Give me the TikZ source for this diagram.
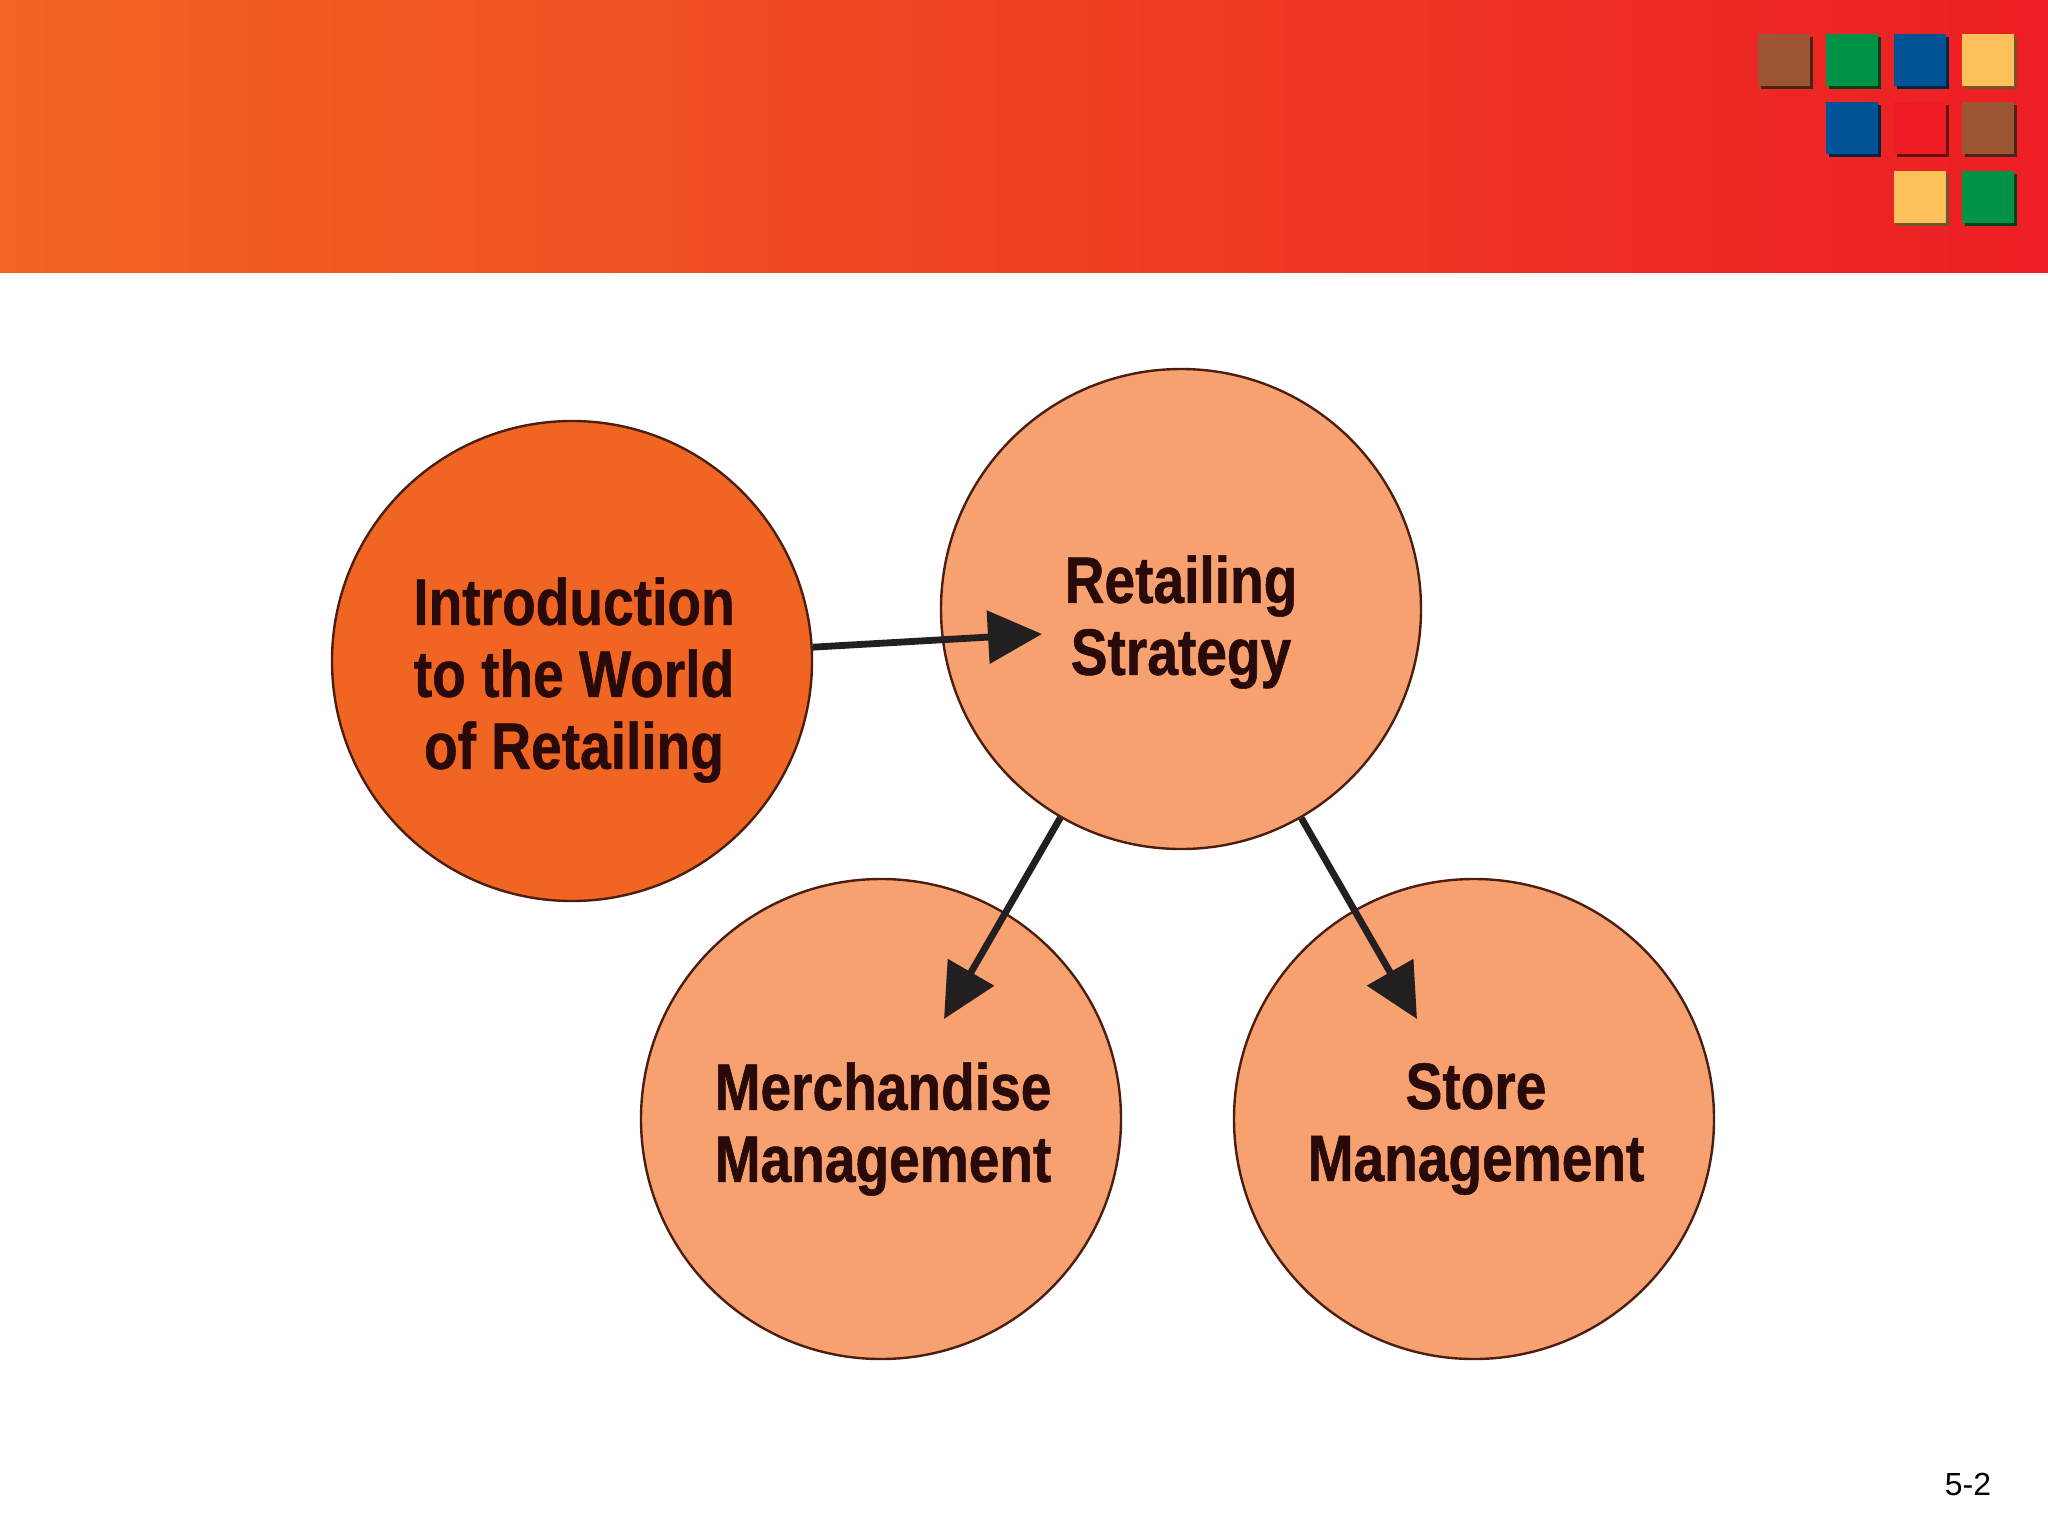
\documentclass[tikz,border=0pt]{standalone}
\usepackage{fontspec}
\setmainfont{Liberation Sans}
\newfontfamily\circfont{Liberation Sans}[FakeStretch=0.84,FakeBold=0.8]
\usetikzlibrary{arrows.meta}
\definecolor{hdrL}{RGB}{242,101,34}
\definecolor{hdrM}{RGB}{239,78,37}
\definecolor{hdrR}{RGB}{237,30,36}
\definecolor{introfill}{RGB}{241,101,35}
\definecolor{lightfill}{RGB}{247,161,112}
\definecolor{rimcol}{RGB}{75,30,15}
\definecolor{txtcol}{RGB}{40,10,10}
\definecolor{arrcol}{RGB}{35,31,32}
\definecolor{sqbrown}{RGB}{155,85,50}
\definecolor{sqgreen}{RGB}{0,146,69}
\definecolor{sqblue}{RGB}{0,84,150}
\definecolor{sqyellow}{RGB}{254,192,90}
\definecolor{sqred}{RGB}{237,28,36}
\tikzset{
  bubble/.style={circle, draw=rimcol, line width=1.2pt, minimum size=240pt, inner sep=0pt},
  bubtext/.style={align=center, text=txtcol, inner sep=0pt,
    font=\circfont\bfseries\fontsize{32.8}{36}\selectfont},
  flow/.style={draw=arrcol, line width=3.4pt, -{Triangle[length=27pt,width=26pt]}},
}
\newcommand{\sqbox}[3]{%
  \fill[black!55!#3] (#1+3,#2+3) rectangle ++(52,52);
  \fill[#3] (#1,#2) rectangle ++(52,52);}
\begin{document}
\begin{tikzpicture}[x=0.5pt,y=-0.5pt]
\useasboundingbox (0,0) rectangle (2048,1536);
\fill[white] (0,0) rectangle (2048,1536);
\shade[left color=hdrL, middle color=hdrM, right color=hdrR] (0,0) rectangle (2048,272);
% squares
\sqbox{1758}{34}{sqbrown}
\sqbox{1826}{34}{sqgreen}
\sqbox{1894}{34}{sqblue}
\sqbox{1962}{34}{sqyellow}
\sqbox{1826}{102}{sqblue}
\sqbox{1894}{102}{sqred}
\sqbox{1962}{102}{sqbrown}
\sqbox{1894}{171}{sqyellow}
\sqbox{1962}{171}{sqgreen}
% circles
\node[bubble, fill=introfill] (intro) at (572,661) {};
\node[bubble, fill=lightfill] (strat) at (1181,609) {};
\node[bubble, fill=lightfill] (merch) at (881,1119) {};
\node[bubble, fill=lightfill] (store) at (1474,1119) {};
% texts
\node[bubtext] (introtxt) at (574,680) {Introduction\\to the World\\of Retailing};
\node[bubtext] (strattxt) at (1181,622) {Retailing\\Strategy};
\node[bubtext] (merchtxt) at (883,1129) {Merchandise\\Management};
\node[bubtext] (storetxt) at (1476,1129) {Store\\Management};
% arrow tips
\coordinate (t1) at (1042,634);
\coordinate (t2) at (944,1019);
\coordinate (t3) at (1417,1019);
\draw[flow] (intro) -- (t1);
\draw[flow] (strat) -- (t2);
\draw[flow] (strat) -- (t3);
% page number
\node[font=\fontsize{16}{18}\selectfont, text=black] (pg) at (1968,1484) {5-2};
\end{tikzpicture}
\end{document}
